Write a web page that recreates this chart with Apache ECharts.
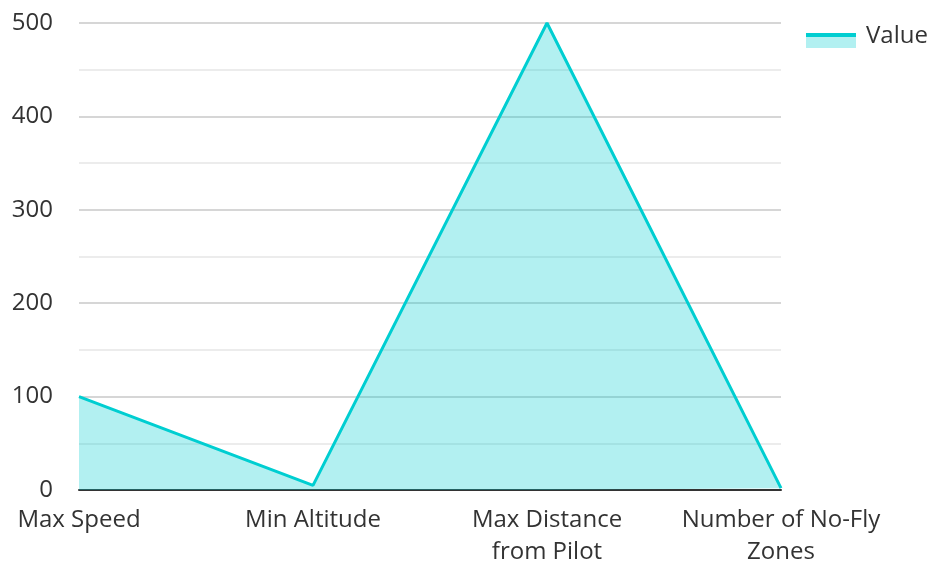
<!DOCTYPE html>
<html>
<head>
<meta charset="utf-8">
<script src="https://cdn.jsdelivr.net/npm/echarts@6/dist/echarts.min.js"></script>
<style>
  html, body { margin: 0; padding: 0; background: #fff; }
  #chart { width: 931px; height: 562px; }
</style>
</head>
<body>
<div id="chart"></div>
<script>
// Drone operating limits
const categories = ['Max Speed', 'Min Altitude', 'Max Distance\nfrom Pilot', 'Number of No-Fly\nZones'];
const values = [100, 5, 500, 2];
const yTicks = [0, 100, 200, 300, 400, 500];

const lineColor = '#00CED1';
const areaColor = 'rgba(0,206,209,0.3)';
const fontFamily = '"Open Sans", "Noto Sans", sans-serif';
const fontSize = 24;

// Legend placement (top-right corner); the swatch is drawn as a graphic
const legendLeft = 806;
const legendTop = 24;
const swatchTop = 33;
const swatchW = 50;
const swatchH = 15;

const chart = echarts.init(document.getElementById('chart'));
chart.setOption({
  animation: false,
  grid: { left: 79, right: 150, top: 23, bottom: 72, containLabel: false, outerBoundsMode: 'none' },
  legend: {
    data: ['Value'],
    left: legendLeft,
    top: legendTop,
    padding: 0,
    icon: 'rect',
    itemWidth: swatchW,
    itemHeight: swatchH,
    itemStyle: { color: 'rgba(0,0,0,0)', borderWidth: 0 },
    lineStyle: { width: 0 },
    textStyle: { fontSize: fontSize, color: '#333', fontFamily: fontFamily, padding: [0, 0, 0, 5] }
  },
  xAxis: {
    type: 'category',
    data: categories,
    boundaryGap: false,
    axisLine: { lineStyle: { color: '#333', width: 2 } },
    axisTick: { show: false },
    axisLabel: {
      fontSize: fontSize, color: '#333', fontFamily: fontFamily,
      margin: 14, lineHeight: 32, interval: 0
    },
    splitLine: { show: false }
  },
  yAxis: {
    type: 'value',
    min: yTicks[0],
    max: yTicks[yTicks.length - 1],
    interval: 100,
    axisLine: { show: false },
    axisTick: { show: false },
    axisLabel: { fontSize: fontSize, color: '#333', fontFamily: fontFamily, margin: 26 },
    splitLine: { lineStyle: { color: '#c8c8c8', width: 1.5 } },
    minorTick: { show: false, splitNumber: 2 },
    minorSplitLine: { show: true, lineStyle: { color: '#e6e6e6', width: 1.5 } }
  },
  series: [{
    name: 'Value',
    type: 'line',
    data: values,
    showSymbol: false,
    symbol: 'none',
    lineStyle: { color: lineColor, width: 3 },
    itemStyle: { color: areaColor },
    areaStyle: { color: areaColor, opacity: 1 }
  }],
  // Legend swatch: filled area with the line stripe along its top edge
  graphic: [{
    type: 'rect',
    shape: { x: legendLeft, y: swatchTop, width: swatchW, height: swatchH },
    style: { fill: areaColor },
    z: 100
  }, {
    type: 'line',
    shape: { x1: legendLeft, y1: swatchTop + 2, x2: legendLeft + swatchW, y2: swatchTop + 2 },
    style: { stroke: lineColor, lineWidth: 4 },
    z: 101
  }]
});
</script>
</body>
</html>
